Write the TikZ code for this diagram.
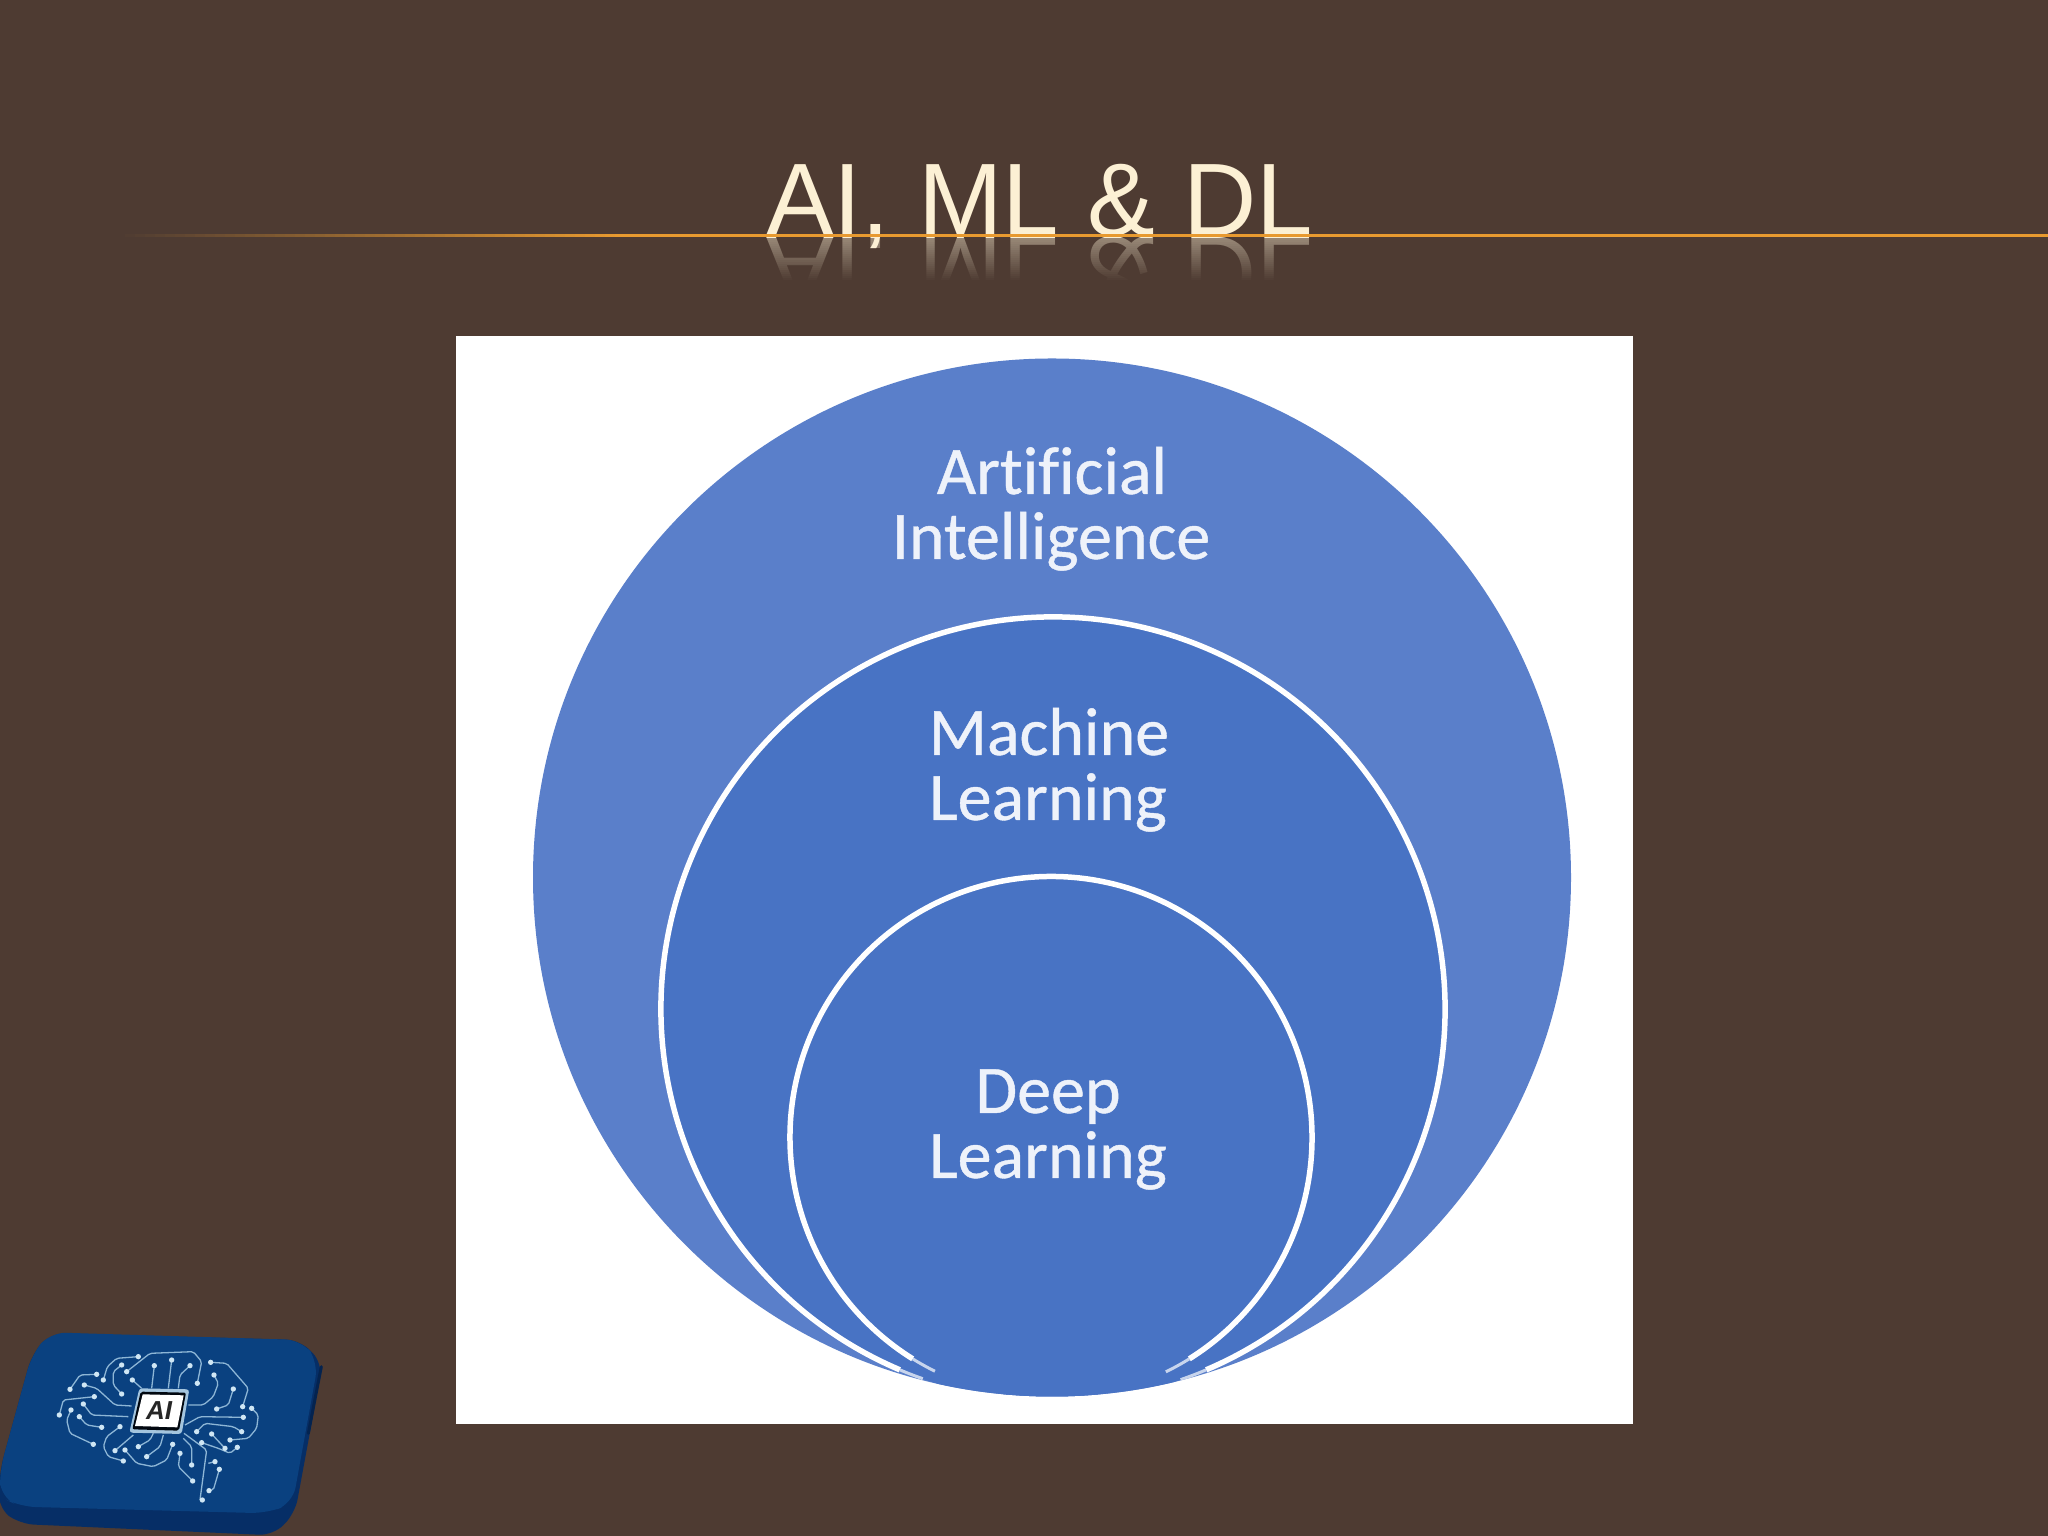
\documentclass[tikz,border=0pt]{standalone}
\usepackage{fontspec}
\setmainfont{Carlito}
\definecolor{bgc}{HTML}{4E3B32}
\definecolor{orangeline}{HTML}{E89A30}
\definecolor{titlec}{HTML}{FCF0D4}
\definecolor{outerc}{HTML}{5A7FCA}
\definecolor{innerc}{HTML}{4873C4}
\definecolor{badgec}{HTML}{0A4180}
\definecolor{badgedk}{HTML}{062E66}
\definecolor{badgeedge}{HTML}{04234F}
\definecolor{tracec}{HTML}{8DB6D6}
\definecolor{dotc}{HTML}{CFE6F4}
\definecolor{labc}{HTML}{EEF2FA}
\tikzset{
  disc/.style={circle,inner sep=0pt,outer sep=0pt,fill=#1},
  ring/.style={draw=white,line width=5.5pt,line cap=butt},
  ringtail/.style={draw=white!70!innerc,line width=3pt,line cap=butt},
  lab/.style={text=labc,font=\addfontfeature{FakeBold=0.6,Ligatures=NoCommon}\fontsize{68}{68}\selectfont,inner sep=0pt,anchor=base},
  titletext/.style={font=\fontspec{Liberation Sans}\fontsize{103}{103}\selectfont,inner sep=0pt,anchor=base,text=titlec,xscale=0.985,transform shape},
  tr/.style={draw=tracec,line width=1.3pt,rounded corners=2pt},
}
\newcommand{\brainDots}[1]{\foreach \p in {#1} \fill[dotc] \p circle[radius=8];}
\begin{document}
\begin{tikzpicture}[x=1pt,y=1pt]
\useasboundingbox (0,0) rectangle (2048,1536);
\fill[bgc] (0,0) rectangle (2048,1536);

% title reflection
\begin{scope}
\clip (600,1536-238) rectangle (1450,1536-282);
\node[titletext,yscale=-1] (refl) at (1039.5,1536-238) {AI, ML \& DL};
\foreach \i in {0,...,21}
  \fill[bgc,opacity={0.58+0.42*\i/21}] (600,1536-238-2*\i) rectangle (1450,1536-240-2*\i);
\end{scope}
\node[titletext] (title) at (1039.5,1536-236) {AI, ML \& DL};
\foreach \i in {0,...,49}{
  \pgfmathsetmacro{\mixp}{\i*2}
  \fill[orangeline!\mixp!bgc] ({115+10*\i},1536-234.5) rectangle ({125.5+10*\i},1536-237.5);
}
\fill[orangeline] (615,1536-234.5) rectangle (2048,1536-237.5);

% picture
\node[fill=white,inner sep=0pt,minimum width=1177pt,minimum height=1088pt,anchor=north west] (photo) at (456,1536-336) {};
\node[disc=outerc,minimum size=1038pt] (ai) at (1052,1536-877.5) {};
\begin{scope}
\clip (ai.center) circle[radius=519];
\fill[innerc] (1053,1536-1009) circle[radius=392];
\draw[ring] (1053,1536-1009) ++(247:392) arc[start angle=247,end angle=-67,radius=392];
\draw[ringtail] (1053,1536-1009) ++(250.6:392) arc[start angle=250.6,end angle=247,radius=392];
\draw[ringtail] (1053,1536-1009) ++(-67:392) arc[start angle=-67,end angle=-71,radius=392];
\fill[innerc] (1051,1536-1137.5) circle[radius=261];
\draw[ring] (1051,1536-1137.5) ++(238:261) arc[start angle=238,end angle=-58,radius=261];
\draw[ringtail] (1051,1536-1137.5) ++(243.6:261) arc[start angle=243.6,end angle=238,radius=261];
\draw[ringtail] (1051,1536-1137.5) ++(-58:261) arc[start angle=-58,end angle=-63.9,radius=261];
\end{scope}

\node[lab] (t1) at (1052,1536-494) {Artificial};
\node[lab] (t2) at (1051,1536-559) {Intelligence};
\node[lab] (t3) at (1049,1536-755) {Machine};
\node[lab] (t4) at (1048,1536-820) {Learning};
\node[lab] (t5) at (1048,1536-1113) {Deep};
\node[lab] (t6) at (1048,1536-1178) {Learning};

% badge
\begin{scope}[shift={(0,236)},x=0.33333pt,y=-0.33333pt]
\fill[badgedk,rounded corners=14pt] (150,100) -- (900,120) -- (968,190) -- (885,640) -- (820,706) -- (60,672) -- (-5,625) -- (0,510) -- (95,165) -- cycle;
\fill[badgec,rounded corners=16pt] (150,97) -- (905,120) -- (955,185) -- (878,610) -- (800,640) -- (60,620) -- (0,590) -- (0,510) -- (95,165) -- cycle;
\draw[badgeedge,line width=3pt,line cap=round] (964,200) -- (925,400);
\draw[tr] (415,170) -- (350,175) -- (322,200) -- (310,240);
\draw[tr] (365,195) -- (340,215) -- (340,255) -- (365,282);
\draw[tr] (380,215) -- (450,160) -- (580,155) -- (605,185) -- (592,250);
\draw[tr] (463,197) -- (455,265);
\draw[tr] (515,180) -- (505,265);
\draw[tr] (570,197) -- (540,225) -- (535,265);
\draw[tr] (397,240) -- (425,265);
\draw[tr] (632,187) -- (680,190) -- (745,265) -- (728,320);
\draw[tr] (642,225) -- (655,250) -- (640,290) -- (610,315) -- (565,315);
\draw[tr] (700,267) -- (685,315) -- (650,327);
\draw[tr] (755,325) -- (775,345) -- (770,385) -- (745,415) -- (690,420);
\draw[tr] (730,352) -- (600,350) -- (555,375);
\draw[tr] (725,395) -- (700,380) -- (615,370) -- (590,395);
\draw[tr] (635,402) -- (675,445);
\draw[tr] (712,442) -- (690,460) -- (655,445) -- (605,428);
\draw[tr] (552,400) -- (620,450) -- (600,600);
\draw[tr] (658,508) -- (640,570) -- (627,572);
\draw[tr] (645,485) -- (625,490);
\draw[tr] (575,495) -- (575,440) -- (550,415);
\draw[tr] (540,460) -- (535,500) -- (578,543);
\draw[tr] (518,433) -- (500,480) -- (460,500) -- (410,490) -- (375,450);
\draw[tr] (440,470) -- (480,440) -- (490,405);
\draw[tr] (415,440) -- (450,420) -- (460,400);
\draw[tr] (345,452) -- (400,405);
\draw[tr] (370,483) -- (325,470) -- (310,440) -- (320,410) -- (360,380);
\draw[tr] (305,382) -- (260,375) -- (238,350);
\draw[tr] (280,433) -- (210,400) -- (200,360) -- (213,330);
\draw[tr] (178,345) -- (190,300) -- (283,290);
\draw[tr] (210,268) -- (240,225) -- (290,223);
\draw[tr] (253,255) -- (290,265) -- (345,315) -- (395,318);
\draw[tr] (250,312) -- (275,345) -- (385,350);
\brainDots{(415,170),(310,240),(365,195),(365,282),(380,215),(592,250),(463,197),(515,180),(570,197),(397,240),(632,187),(728,320),(642,225),(700,267),(650,327),(755,325),(690,420),(730,352),(725,395),(590,395),(635,402),(675,445),(712,442),(605,428),(607,600),(658,508),(627,572),(645,485),(575,495),(540,460),(578,543),(518,433),(375,450),(440,470),(415,440),(345,452),(370,483),(360,380),(305,382),(238,350),(280,433),(213,330),(178,345),(283,290),(210,268),(290,223),(253,255),(250,312)}
\fill[tracec!80!white,rounded corners=3pt] (418,265) -- (568,268) -- (545,402) -- (388,398) -- cycle;
\fill[black!85!badgedk,rounded corners=2pt] (422,275) -- (558,278) -- (537,392) -- (397,388) -- cycle;
\fill[white] (428,283) -- (551,286) -- (532,382) -- (405,378) -- cycle;
\end{scope}
\node[inner sep=0pt,text=black!85,font=\fontspec{Liberation Sans}\bfseries\itshape\fontsize{26}{26}\selectfont] (chip) at (159,1536-1411) {AI};
\end{tikzpicture}
\end{document}
